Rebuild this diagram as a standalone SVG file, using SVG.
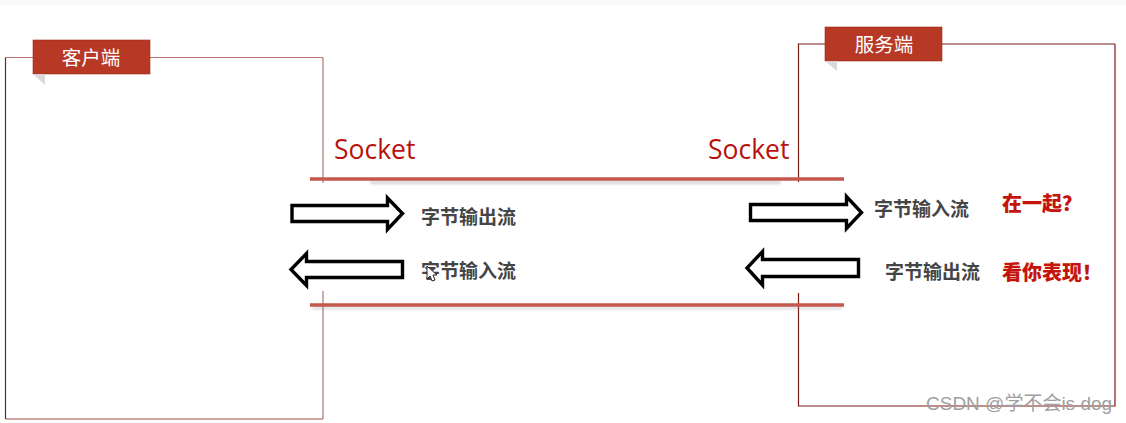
<svg xmlns="http://www.w3.org/2000/svg" width="1126" height="423" viewBox="0 0 1126 423">
<style>
.frame{fill:none;stroke-width:1.2}
.tab{fill:#b73825;stroke:#a02c1c;stroke-width:.6}
.fold{fill:#d9d9d9}
.tabt{font-family:"Noto Sans CJK SC","Liberation Sans",sans-serif;font-size:19.5px;fill:#fff;text-anchor:middle}
.sock{font-family:"Open Sans","Noto Sans",sans-serif;font-size:26.5px;fill:#b8120c}
.flow{font-family:"Noto Sans CJK SC",sans-serif;font-size:19px;font-weight:700;fill:#454545}
.say{font-family:"Noto Sans CJK SC",sans-serif;font-size:20px;font-weight:900;fill:#c4140c}
.arrow{fill:#fff;stroke:#000;stroke-width:3.4;stroke-linejoin:miter}
.bar{stroke:#c4584e;stroke-width:3.4;fill:none}
.shadow{fill:#8a8a8a;opacity:.4}
</style>
<defs><filter id="blur" x="-5%" y="-200%" width="110%" height="500%"><feGaussianBlur stdDeviation="1.6"/></filter></defs>
<rect width="1126" height="423" fill="#fff"/>
<rect width="1126" height="5" fill="#f9f9f9"/>
<g id="client">
<path class="frame" stroke="#c07874" d="M5.5 57.5H323"/>
<path class="frame" stroke="#6a2626" d="M5.5 57.5V419"/>
<path class="frame" stroke="#a87878" d="M323 57.5V183M323 291V419"/>
<path class="frame" stroke="#a84a44" d="M5.5 419H323"/>
<rect class="tab" x="33" y="40" width="117" height="34"/>
<polygon class="fold" points="33,74 45,74 45,85"/>
<text class="tabt" x="91" y="65">客户端</text>
</g>
<g id="server">
<path class="frame" stroke="#7a1c16" d="M1115 44H798.5V182M798.5 293V406H1115V44"/>
<rect class="tab" x="825" y="27" width="117" height="34"/>
<polygon class="fold" points="825,61 837,61 837,71"/>
<text class="tabt" x="884" y="52">服务端</text>
</g>
<g id="socket-labels">
<text class="sock" x="334" y="159">Socket</text>
<text class="sock" x="708" y="159">Socket</text>
</g>
<g id="connectors">
<rect class="shadow" x="370" y="181" width="411" height="3" filter="url(#blur)"/>
<rect class="shadow" x="312" y="307" width="530" height="2" filter="url(#blur)"/>
<path class="bar" d="M310 179H844M310 305H844"/>
<polygon class="arrow" points="292,205.500 387.500,205.500 387.500,198 402.500,213.500 387.500,229.500 387.500,221.500 292,221.500"/>
<polygon class="arrow" points="402.500,261.500 306.500,261.500 306.500,253.500 291,269.500 306.500,285.500 306.500,277.500 402.500,277.500"/>
<polygon class="arrow" points="750.500,204.500 846.500,204.500 846.500,196.500 861.500,212.500 846.500,228.500 846.500,220.500 750.500,220.500"/>
<polygon class="arrow" points="858.500,259.500 762.500,259.500 762.500,251.500 747,268 762.500,285 762.500,276.500 858.500,276.500"/>
</g>
<g id="flow-labels">
<text class="flow" x="421" y="224">字节输出流</text>
<text class="flow" x="421" y="278">字节输入流</text>
<text class="flow" x="874" y="216">字节输入流</text>
<text class="flow" x="885" y="279">字节输出流</text>
</g>
<g id="remarks">
<text class="say" x="1002" y="211">在一起？</text>
<text class="say" x="1002" y="280">看你表现！</text>
</g>
<g id="cursor"><polygon points="427,266 427,279 430,276 432,281 435,280 433,275 437,275" fill="#fff" stroke="#222" stroke-width="1"/></g>
<g id="watermark"><text x="926" y="410" font-family="Liberation Sans,Noto Sans CJK SC,sans-serif" font-size="19px" fill="#a0a0a0">CSDN @学不会is dog</text></g>
</svg>
